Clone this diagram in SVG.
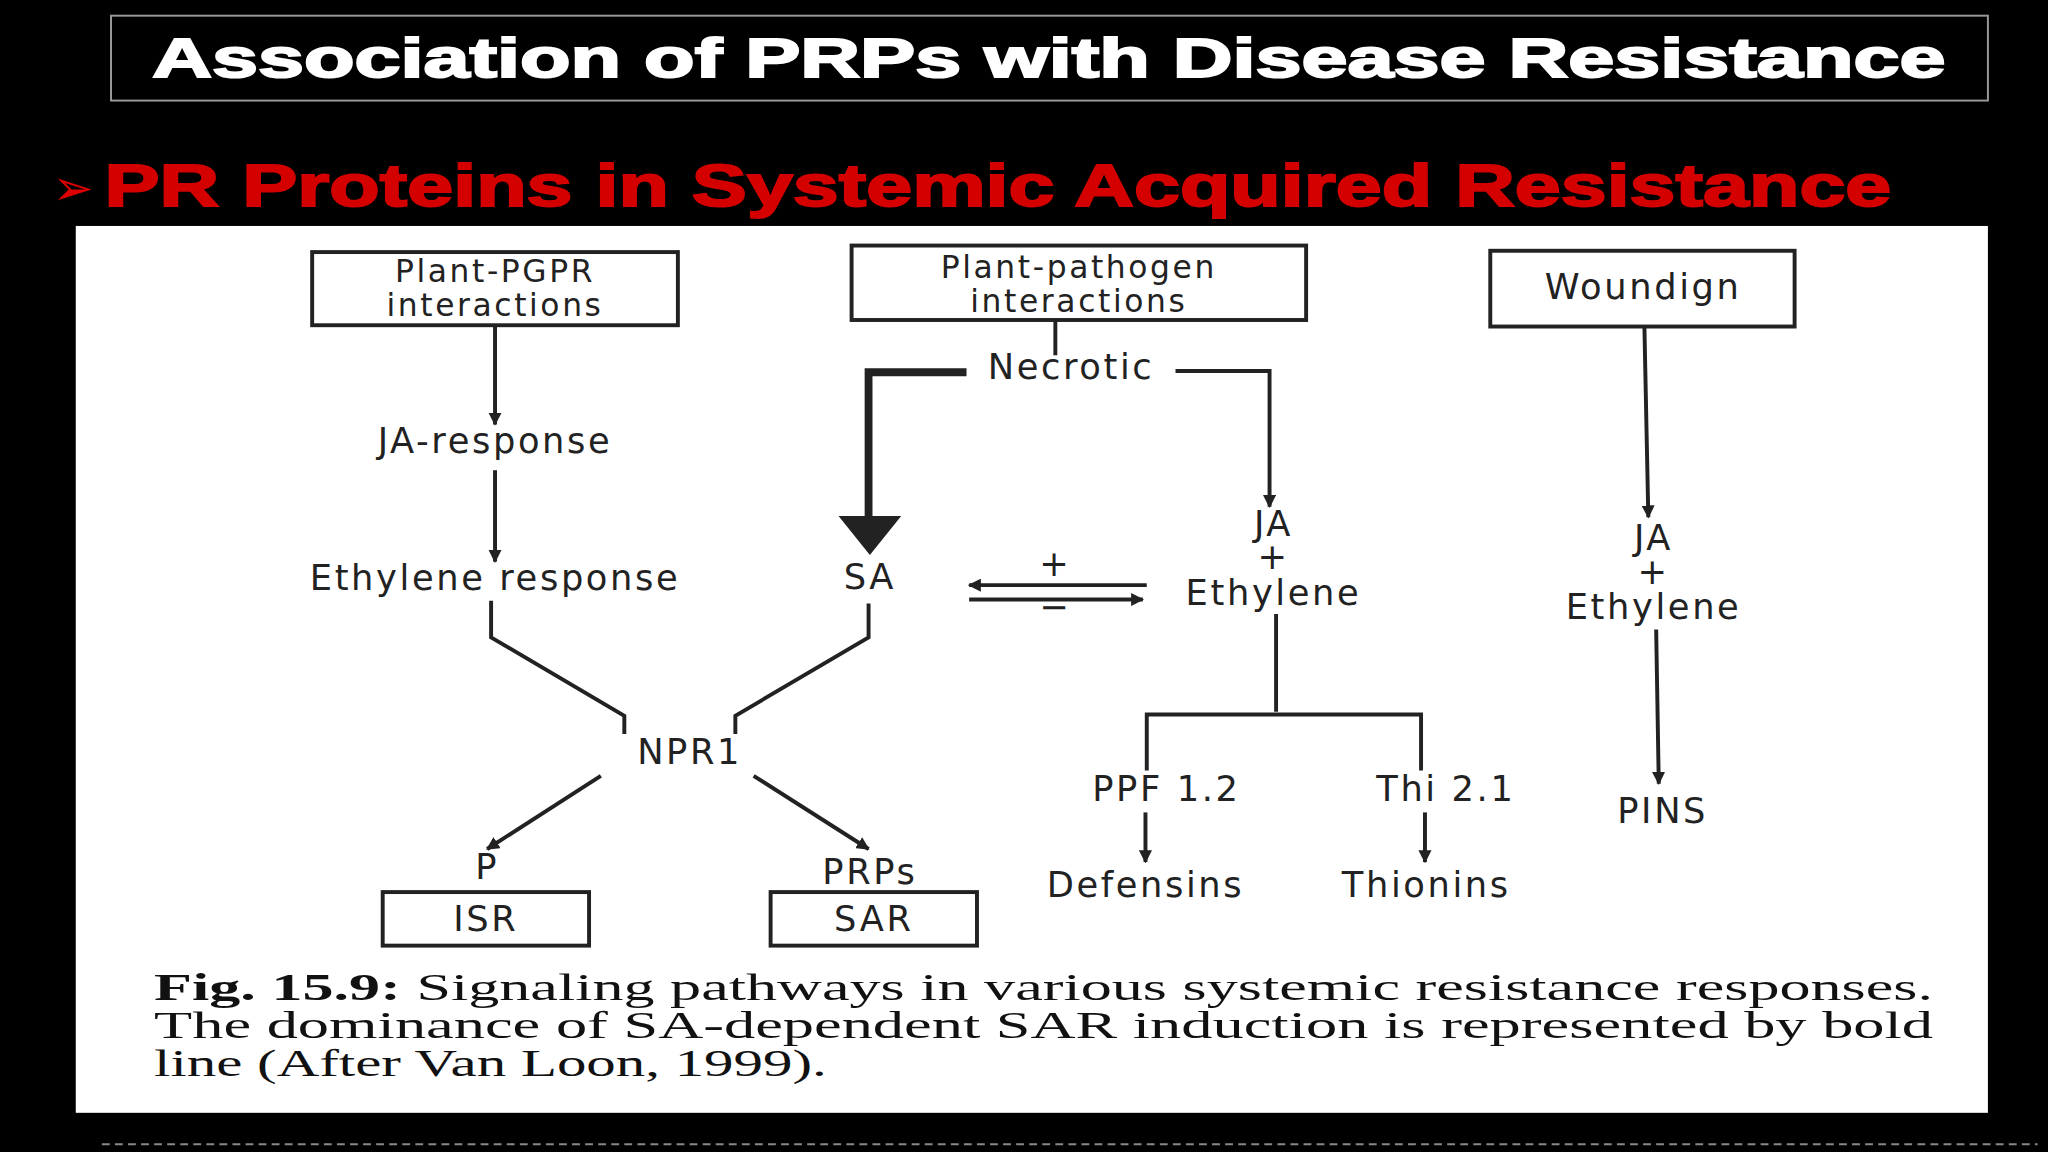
<svg xmlns="http://www.w3.org/2000/svg" width="2048" height="1152" viewBox="0 0 2048 1152">
<defs>
<marker id="ah" markerWidth="10" markerHeight="10" refX="9" refY="5" orient="auto" markerUnits="userSpaceOnUse" viewBox="0 0 10 10"><path d="M0,0 L10,5 L0,10 Z" fill="#222"/></marker>
<style>
.d{font-family:"DejaVu Sans","Liberation Sans",sans-serif;font-size:27px;letter-spacing:2px;fill:#222;text-anchor:middle}
.bt{font-size:24px}
.l{fill:none;stroke:#222;stroke-width:3}
.a{fill:none;stroke:#222;stroke-width:3;marker-end:url(#ah)}
.b{fill:#fff;stroke:#222;stroke-width:3}
.c{font-family:"Liberation Serif","Times New Roman",serif;font-size:29px;fill:#111}
</style>
</defs>
<rect width="2048" height="1152" fill="#000"/>
<g transform="scale(1.30612)">
<g id="title">
<rect x="85" y="12" width="1437" height="65" fill="none" stroke="#999" stroke-width="1.5"/>
<text x="803" y="59" text-anchor="middle" font-family="Liberation Sans,Arial,sans-serif" font-weight="bold" font-size="42" fill="#fff" stroke="#fff" stroke-width="1.5" textLength="1373" lengthAdjust="spacingAndGlyphs">Association of PRPs with Disease Resistance</text>
</g>
<g id="subtitle">
<text x="40" y="157" font-family="DejaVu Sans,sans-serif" font-size="38" fill="#d00">➢</text>
<text x="80" y="158" font-family="Liberation Sans,Arial,sans-serif" font-weight="bold" font-size="46" fill="#d40000" stroke="#d40000" stroke-width="1.5" textLength="1368" lengthAdjust="spacingAndGlyphs">PR Proteins in Systemic Acquired Resistance</text>
</g>
<rect x="58" y="173" width="1464" height="679" fill="#fff"/>
<line x1="78" y1="876" x2="1560" y2="876" stroke="#888" stroke-width="1.5" stroke-dasharray="6,4"/>
<g id="connectors">
<path class="a" d="M379,249 V325"/>
<path class="a" d="M379,360 V430"/>
<path class="l" d="M808,245 V272"/>
<path d="M740,285 H665 V398" fill="none" stroke="#222" stroke-width="6"/>
<path d="M642,395 L690,395 L666,425 Z" fill="#222"/>
<path class="a" d="M900,284 H972 V388"/>
<path class="a" d="M878,448 H742"/>
<path class="a" d="M742,459 H875"/>
<path class="l" d="M376,460 V488 L478,548 V562"/>
<path class="l" d="M665,462 V488 L563,548 V562"/>
<path class="a" d="M460,594 L373,650"/>
<path class="a" d="M577,594 L665,650"/>
<path class="l" d="M977,470 V545 M878,590 V547 H1088 V590"/>
<path class="a" d="M877,622 V660"/>
<path class="a" d="M1091,622 V660"/>
<path class="a" d="M1259,250 L1262,396"/>
<path class="a" d="M1268,482 L1270,600"/>
</g>
<g id="pgpr"><rect class="b" x="239" y="193" width="280" height="56"/><text class="d bt" x="379" y="216">Plant-PGPR</text><text class="d bt" x="379" y="242">interactions</text></g>
<g id="pathogen"><rect class="b" x="652" y="188" width="348" height="57"/><text class="d bt" x="826" y="213">Plant-pathogen</text><text class="d bt" x="826" y="239">interactions</text></g>
<g id="wound"><rect class="b" x="1141" y="192" width="233" height="58"/><text class="d" x="1258" y="229">Woundign</text></g>
<g id="ja1"><text class="d" x="379" y="347">JA-response</text></g>
<g id="eth1"><text class="d" x="379" y="452">Ethylene response</text></g>
<g id="necrotic"><text class="d" x="820" y="290">Necrotic</text></g>
<g id="sa"><text class="d" x="666" y="451">SA</text></g>
<g id="jaeth"><text class="d" x="975" y="410">JA</text><text class="d" x="975" y="436" font-size="20">+</text><text class="d" x="975" y="463">Ethylene</text></g>
<g id="pm"><text class="d" x="808" y="441" font-size="22">+</text><text class="d" x="808" y="474">−</text></g>
<g id="npr1"><text class="d" x="528" y="585">NPR1</text></g>
<g id="p"><text class="d" x="373" y="673">P</text></g>
<g id="prps"><text class="d" x="666" y="677">PRPs</text></g>
<g id="isr"><rect class="b" x="293" y="683" width="158" height="41"/><text class="d" x="372" y="713">ISR</text></g>
<g id="sar"><rect class="b" x="590" y="683" width="158" height="41"/><text class="d" x="669" y="713">SAR</text></g>
<g id="ppf"><text class="d" x="893" y="613">PPF 1.2</text></g>
<g id="thi"><text class="d" x="1107" y="613">Thi 2.1</text></g>
<g id="def"><text class="d" x="877" y="687">Defensins</text></g>
<g id="thion"><text class="d" x="1092" y="687">Thionins</text></g>
<g id="jaeth2"><text class="d" x="1266" y="421">JA</text><text class="d" x="1266" y="447" font-size="20">+</text><text class="d" x="1266" y="474">Ethylene</text></g>
<g id="pins"><text class="d" x="1273" y="630">PINS</text></g>
<g id="caption">
<text class="c" x="118" y="766" textLength="1362" lengthAdjust="spacingAndGlyphs"><tspan font-weight="bold">Fig. 15.9:</tspan> Signaling pathways in various systemic resistance responses.</text>
<text class="c" x="118" y="795" textLength="1362" lengthAdjust="spacingAndGlyphs">The dominance of SA-dependent SAR induction is represented by bold</text>
<text class="c" x="118" y="824" textLength="515" lengthAdjust="spacingAndGlyphs">line (After Van Loon, 1999).</text>
</g>
</g>
</svg>
